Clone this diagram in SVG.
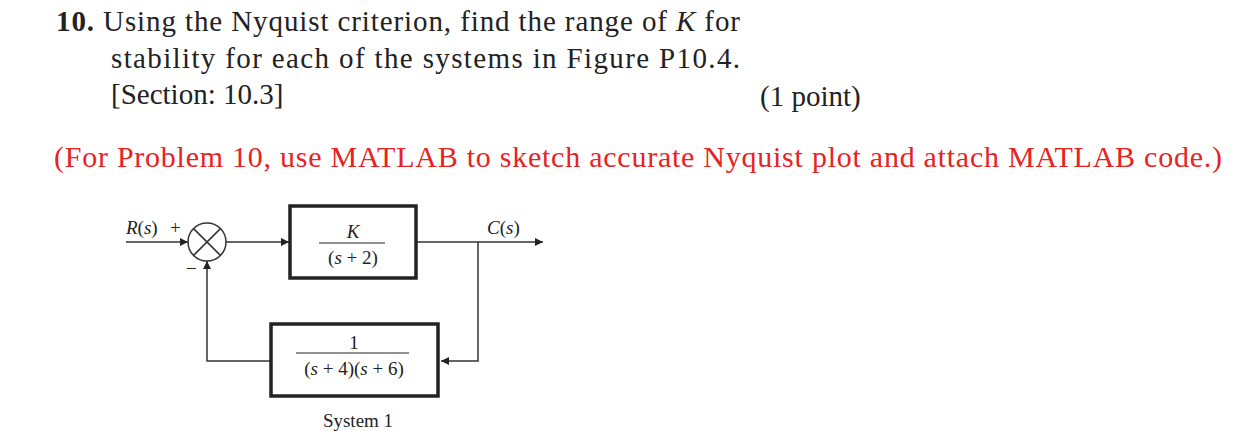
<svg xmlns="http://www.w3.org/2000/svg" width="1244" height="431" viewBox="0 0 1244 431">
<defs>
<style>
text{font-family:"Liberation Serif","Times New Roman",serif;fill:#222}
.t{font-size:29px}
.d{font-size:19px}
.ln{stroke:#333;stroke-width:1.5;fill:none}
.bx{stroke:#222;stroke-width:3.5;fill:#fff}
</style>
<marker id="a" viewBox="0 0 10 10" refX="10" refY="5" markerWidth="14" markerHeight="8" markerUnits="userSpaceOnUse" orient="auto"><path d="M0,0L10,5L0,10z" fill="#222"/></marker>
</defs>
<rect width="1244" height="431" fill="#fff"/>
<g id="problem">
<text class="t" x="56" y="31" textLength="684"><tspan font-weight="bold">10.</tspan> Using the Nyquist criterion, find the range of <tspan font-style="italic">K</tspan> for</text>
<text class="t" x="111" y="68" textLength="629">stability for each of the systems in Figure P10.4.</text>
<text class="t" x="111" y="104">[Section: 10.3]</text>
<text class="t" x="760" y="106">(1 point)</text>
<text class="t" x="54" y="167" style="fill:#e8231f;font-size:30px" textLength="1168">(For Problem 10, use MATLAB to sketch accurate Nyquist plot and attach MATLAB code.)</text>
</g>
<g id="connectors">
<line class="ln" x1="126" y1="242" x2="188" y2="242" marker-end="url(#a)"/>
<line class="ln" x1="226" y1="242" x2="289" y2="242" marker-end="url(#a)"/>
<polyline class="ln" points="417,242 543,242" marker-end="url(#a)"/>
<polyline class="ln" points="478,242 478,361 441,361" marker-end="url(#a)"/>
<polyline class="ln" points="270,361 207,361 207,261" marker-end="url(#a)"/>
</g>
<g id="sum">
<circle cx="207" cy="242" r="19" class="ln" fill="#fff"/>
<line class="ln" x1="193.6" y1="228.6" x2="220.4" y2="255.4"/>
<line class="ln" x1="220.4" y1="228.6" x2="193.6" y2="255.4"/>
<text class="d" x="170" y="234">+</text>
<text class="d" x="186" y="275">−</text>
<text class="d" x="126" y="234"><tspan font-style="italic">R</tspan>(<tspan font-style="italic">s</tspan>)</text>
<text class="d" x="487" y="234"><tspan font-style="italic">C</tspan>(<tspan font-style="italic">s</tspan>)</text>
</g>
<g id="forward">
<rect class="bx" x="290" y="206" width="126" height="72"/>
<text class="d" x="353" y="238" text-anchor="middle" font-style="italic">K</text>
<line x1="319" y1="243" x2="385" y2="243" stroke="#222" stroke-width="1.2"/>
<text class="d" x="353" y="264" text-anchor="middle">(<tspan font-style="italic">s</tspan> + 2)</text>
</g>
<g id="feedback">
<rect class="bx" x="271" y="324" width="167" height="72"/>
<text class="d" x="354" y="349" text-anchor="middle">1</text>
<line x1="296" y1="353" x2="409" y2="353" stroke="#222" stroke-width="1.2"/>
<text class="d" x="354" y="375" text-anchor="middle">(<tspan font-style="italic">s</tspan> + 4)(<tspan font-style="italic">s</tspan> + 6)</text>
</g>
<text class="d" x="358" y="427" text-anchor="middle">System 1</text>
</svg>
